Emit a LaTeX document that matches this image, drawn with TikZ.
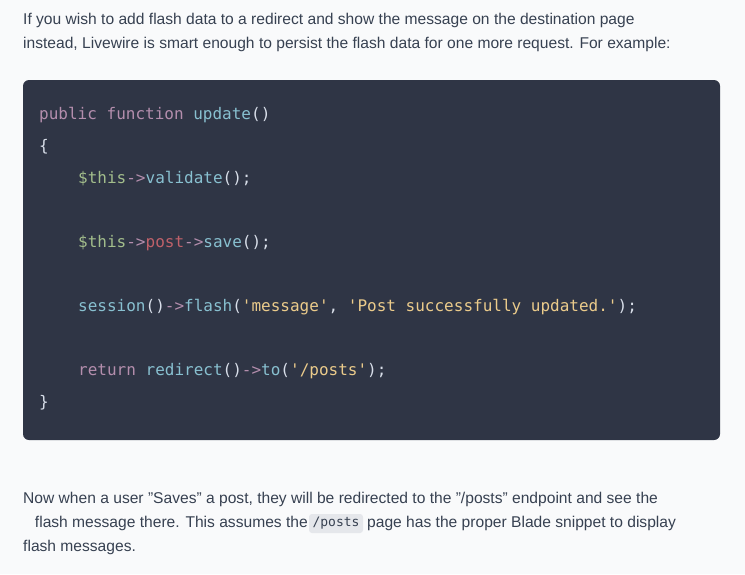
\documentclass[tikz,border=0pt]{standalone}
\usepackage{fontspec}
\setmainfont{Liberation Sans}
\newfontfamily\codef{DejaVu Sans Mono}
\definecolor{pagebg}{HTML}{F9FAFB}
\definecolor{codebg}{HTML}{2F3545}
\definecolor{txt}{HTML}{374151}
\definecolor{kw}{HTML}{B48EAD}
\definecolor{fn}{HTML}{88C0D0}
\definecolor{vr}{HTML}{A3BE8C}
\definecolor{rd}{HTML}{BF616A}
\definecolor{st}{HTML}{EBCB8B}
\definecolor{pn}{HTML}{D8DEE9}
\definecolor{inl}{HTML}{E5E7EB}
\newcommand{\K}[1]{\textcolor{kw}{#1}}
\newcommand{\F}[1]{\textcolor{fn}{#1}}
\newcommand{\V}[1]{\textcolor{vr}{#1}}
\newcommand{\R}[1]{\textcolor{rd}{#1}}
\newcommand{\St}[1]{\textcolor{st}{#1}}
\newcommand{\Pn}[1]{\textcolor{pn}{#1}}
\begin{document}
\begin{tikzpicture}[x=1pt,y=-1pt,
  para/.style={anchor=west,inner sep=0pt,text=txt,font=\fontsize{15.6}{18}\selectfont},
  code/.style={anchor=west,inner sep=0pt,font=\codef\fontsize{16}{18}\selectfont}]
\fill[pagebg] (0,0) rectangle (745,574);
\useasboundingbox (0,0) rectangle (745,574);
\fill[codebg,rounded corners=6pt] (23,80) rectangle (720,440);
\node[para] (p1) at (23,20) {If you wish to add flash data to a redirect and show the message on the destination page};
\node[para] (p2) at (23,44) {instead, Livewire is smart enough to persist the flash data for one more request. For example:};
\node[code] (c1) at (39,115) {\K{public function} \F{update}\Pn{()}};
\node[code] (c2) at (39,147) {\Pn{\{}};
\node[code] (c3) at (78,179) {\V{\$this}\K{->}\F{validate}\Pn{();}};
\node[code] (c4) at (78,243) {\V{\$this}\K{->}\R{post}\K{->}\F{save}\Pn{();}};
\node[code] (c5) at (78,307) {\F{session}\Pn{()}\K{->}\F{flash}\Pn{(}\St{'message'}\Pn{, }\St{'Post successfully updated.'}\Pn{);}};
\node[code] (c6) at (78,371) {\K{return} \F{redirect}\Pn{()}\K{->}\F{to}\Pn{(}\St{'/posts'}\Pn{);}};
\node[code] (c7) at (39,403) {\Pn{\}}};
\node[para] (q1) at (23,499) {Now when a user "Saves" a post, they will be redirected to the "/posts" endpoint and see the};
\node[para,anchor=east] (q2b) at (308,523) {flash message there. This assumes the};
\fill[inl,rounded corners=3pt] (309,514) rectangle (363,533);
\node[anchor=center,inner sep=0pt,text=txt,font=\codef\fontsize{13}{15}\selectfont] (ic) at (336,523) {/posts};
\node[para] (q2c) at (367,523) {page has the proper Blade snippet to display};
\node[para] (q3) at (23,547) {flash messages.};
\end{tikzpicture}
\end{document}
